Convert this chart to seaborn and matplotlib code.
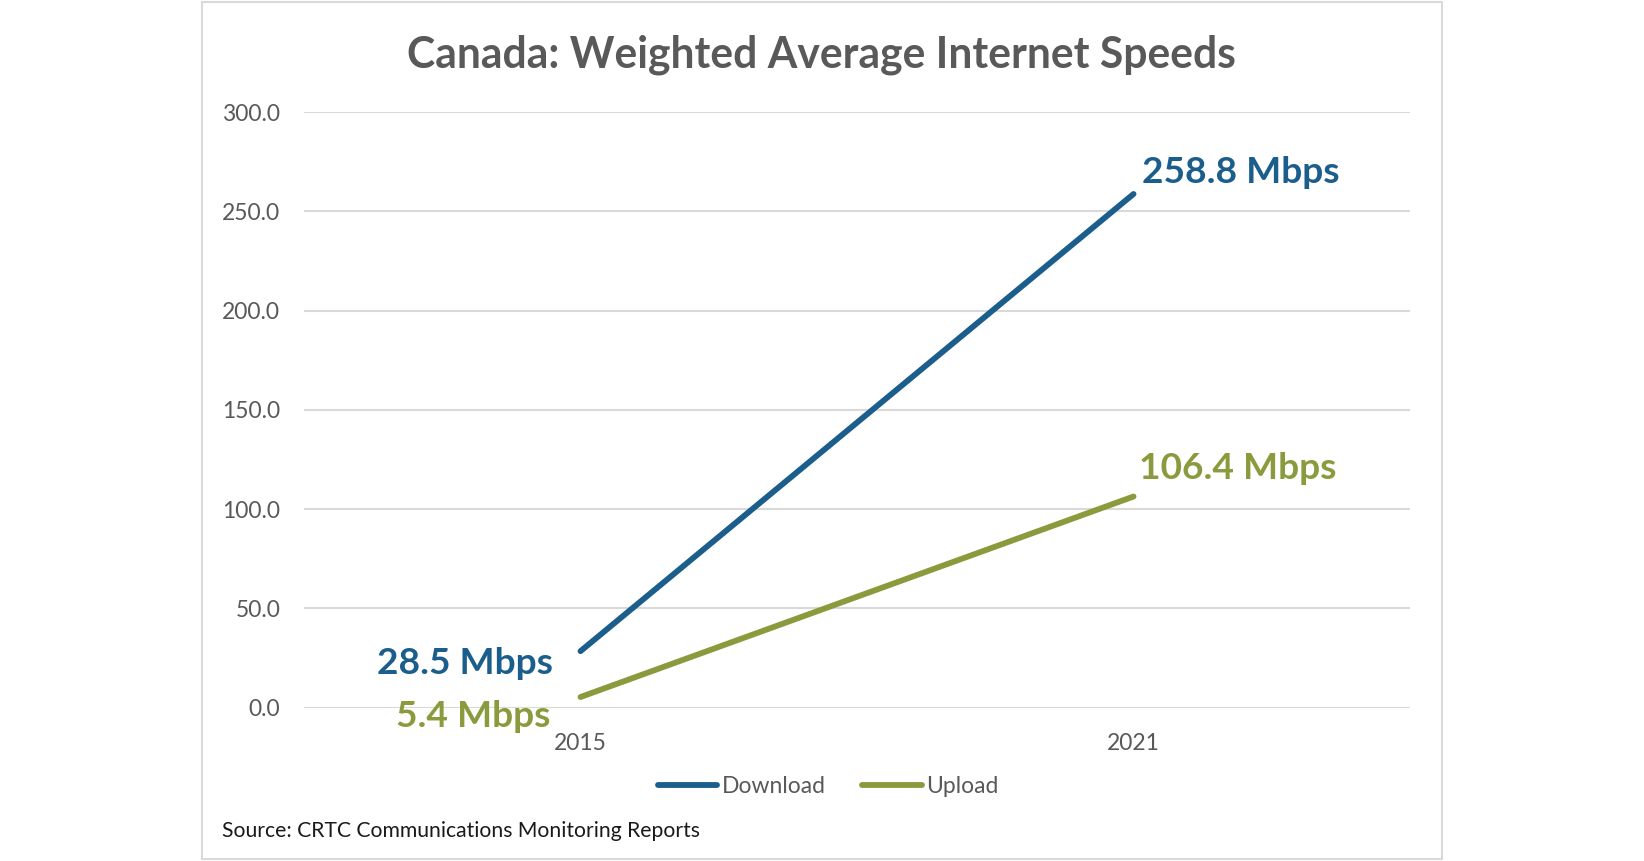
import pandas as pd
import matplotlib
matplotlib.use('Agg')
import matplotlib.pyplot as plt
import seaborn as sns
from matplotlib.patches import Rectangle

# Data
years = ['2015', '2021']
download = [28.5, 258.8]
upload = [5.4, 106.4]
series = ['Download', 'Upload']
y_ticks = [0, 50, 100, 150, 200, 250, 300]

blue = '#1b5e8c'
green = '#8a9b3d'
grey_text = '#595959'

df = pd.DataFrame({
    'year': years * 2,
    'speed': download + upload,
    'series': [series[0]] * len(years) + [series[1]] * len(years),
})

sns.set_theme(style='white')
plt.rcParams['font.family'] = ['Lato', 'DejaVu Sans']

fig = plt.figure(figsize=(16.44, 8.61), dpi=100)
ax = fig.add_axes([0.1849, 0.178, 0.8577 - 0.1849, 0.8697 - 0.178])

sns.lineplot(data=df, x='year', y='speed', hue='series',
             palette={'Download': blue, 'Upload': green},
             linewidth=4.2, legend=False, ax=ax, sort=False)
for ln in ax.get_lines():
    ln.set_solid_capstyle('round')

ax.set_xlim(-0.5, 1.5)
ax.set_ylim(0, 300)
ax.set_yticks(y_ticks)
ax.set_yticklabels([f'{v:.1f}' for v in y_ticks])
ax.yaxis.grid(True, color='#d9d9d9', linewidth=1.5)
ax.xaxis.grid(False)
for s in ax.spines.values():
    s.set_visible(False)
ax.axhline(0, color='#d9d9d9', linewidth=1.5, zorder=0)
ax.tick_params(axis='y', labelsize=16.5, labelcolor=grey_text, pad=17, length=0)
ax.tick_params(axis='x', labelsize=16.5, labelcolor=grey_text, pad=18, length=0)
ax.set_xlabel('')
ax.set_ylabel('')

# Value labels
lab_kw = dict(fontsize=26.7, fontweight='bold')
ax.annotate(f'{download[1]} Mbps', (1, download[1]), xytext=(6, 3.5),
            textcoords='offset points', ha='left', va='bottom', color=blue, **lab_kw)
ax.annotate(f'{upload[1]} Mbps', (1, upload[1]), xytext=(4, 8.5),
            textcoords='offset points', ha='left', va='bottom', color=green, **lab_kw)
ax.annotate(f'{download[0]} Mbps', (0, download[0]), xytext=(-20, -8.8),
            textcoords='offset points', ha='right', va='center', color=blue, **lab_kw)
ax.annotate(f'{upload[0]} Mbps', (0, upload[0]), xytext=(-21.5, -14),
            textcoords='offset points', ha='right', va='center', color=green, **lab_kw)

fig.text(0.4994, 0.936, 'Canada: Weighted Average Internet Speeds', ha='center', va='center',
         fontsize=30.7, fontweight='bold', color=grey_text)

leg = ax.legend(handles=ax.get_lines()[:2], labels=series, loc='center',
                bbox_to_anchor=(0.474, -0.133), ncol=2, frameon=False, fontsize=16.5,
                handlelength=2.6, handletextpad=0.2, columnspacing=1.6)
for t in leg.get_texts():
    t.set_color(grey_text)

fig.text(0.135, 0.0346, 'Source: CRTC Communications Monitoring Reports', ha='left', va='center',
         fontsize=15.2, color='#1a1a1a')

fig.patches.append(Rectangle((202 / 1644, 0.002), (1442 - 202) / 1644, 0.996,
                             transform=fig.transFigure, fill=False,
                             edgecolor='#d9d9d9', linewidth=1.5))

fig.savefig('out.png', dpi=100, facecolor='white')
